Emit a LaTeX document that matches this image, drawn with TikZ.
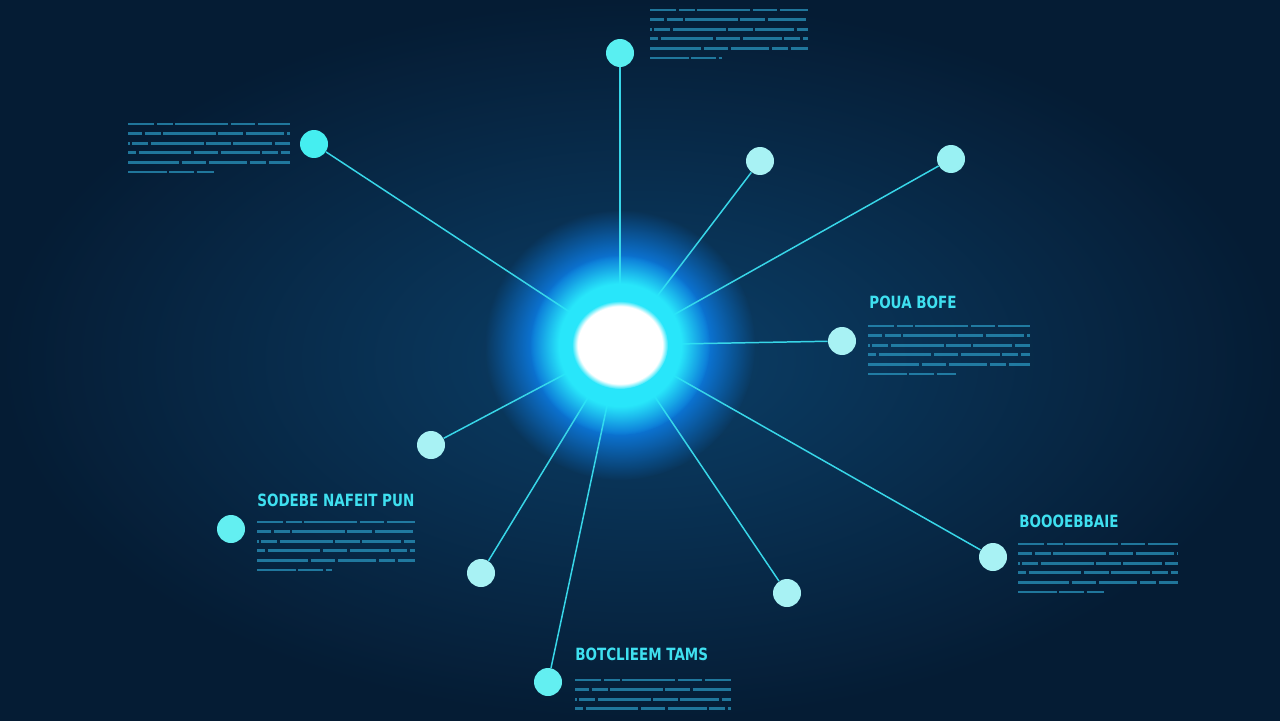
\documentclass[tikz,border=0pt]{standalone}
\usepackage{fontspec}
\usetikzlibrary{fadings}

\newfontfamily\headfont[FakeStretch=0.8]{DejaVu Sans}

\definecolor{bgdark}{HTML}{051C34}
\definecolor{bgmid}{HTML}{0B3F68}
\definecolor{wire}{HTML}{38D6E8}
\definecolor{dotpale}{HTML}{A8F2F4}
\definecolor{dotcyan}{HTML}{45EEF0}
\definecolor{headcol}{HTML}{3FE0F0}
\definecolor{bodycol}{HTML}{2C9CC6}
\definecolor{glowcol}{HTML}{0C7CE4}
\definecolor{ringcol}{HTML}{28E6FA}

% soft-edged round fadings
\pgfdeclareradialshading{glowsh}{\pgfpointorigin}{color(0bp)=(white); color(16bp)=(white!90!black); color(25bp)=(black); color(50bp)=(black)}
\pgfdeclarefading{glowfade}{\pgfuseshading{glowsh}}
\pgfdeclareradialshading{halosh}{\pgfpointorigin}{color(0bp)=(white); color(17bp)=(white); color(25bp)=(black); color(50bp)=(black)}
\pgfdeclarefading{halofade}{\pgfuseshading{halosh}}
\pgfdeclareradialshading{coresh}{\pgfpointorigin}{color(0bp)=(white); color(22bp)=(white); color(25bp)=(black); color(50bp)=(black)}
\pgfdeclarefading{corefade}{\pgfuseshading{coresh}}

% filler lines under a heading: x, y, width, lines, last width
\newcommand{\fillerlines}[5]{%
  \foreach \k in {1,...,#4}{%
    \pgfmathsetmacro{\ly}{#2+(\k-1)*9.6}
    \ifnum\k=#4
      \draw[filler, dash phase=\k*7pt] (#1,\ly) -- ++(#5,0);
    \else
      \draw[filler, dash phase=\k*7pt] (#1,\ly) -- ++(#3,0);
    \fi
  }}

\begin{document}
\begin{tikzpicture}[x=0.02cm, y=-0.02cm,
  leaf/.style={circle, fill=dotpale, inner sep=0pt, minimum size=0.56cm},
  wire/.style={color=wire, line width=0.85pt},
  head/.style={anchor=base west, inner sep=0pt, text=headcol, font=\headfont\bfseries\fontsize{9.6}{10}\selectfont},
  filler/.style={color=bodycol, line width=1.6pt, opacity=0.7,
    dash pattern=on 22pt off 1.5pt on 9pt off 1.5pt on 30pt off 1.5pt on 14pt off 1.5pt}]

\useasboundingbox (0,0) rectangle (1280,720);
\shade[inner color=bgmid, outer color=bgdark] (0,0) rectangle (1280,720);

\node[circle, inner sep=0pt, minimum size=1.8cm] (hub) at (620,345) {};

% blue glow round the hub
\fill[glowcol, path fading=glowfade] (hub.center) circle (135);

\node[leaf, fill=dotcyan!80!dotpale] (nTop) at (620,53) {};
\node[leaf, fill=dotcyan] (nUL) at (314,144) {};
\node[leaf] (nUR) at (760,161) {};
\node[leaf, fill=dotpale!85!dotcyan] (nFR) at (951,159) {};
\node[leaf] (nR) at (842,341) {};
\node[leaf] (nL) at (431,445) {};
\node[leaf, fill=dotcyan!70!dotpale] (nFL) at (231,529) {};
\node[leaf] (nLL) at (481,573) {};
\node[leaf, fill=dotcyan!70!dotpale] (nB) at (548,682) {};
\node[leaf] (nLR) at (787,593) {};
\node[leaf] (nBR) at (993,557) {};

\foreach \n in {nTop,nUL,nUR,nFR,nR,nL,nLL,nB,nLR,nBR}
  \draw[wire] (hub) -- (\n);

% cyan halo and white core
\fill[ringcol, path fading=halofade] (hub.center) circle (90);
\fill[white, path fading=corefade] (hub.center) ellipse (48 and 44);

% headings
\node[head] (hR) at (869,308) {POUA BOFE};
\node[head] (hL) at (257,506) {SODEBE NAFEIT PUN};
\node[head] (hBR) at (1019,527) {BOOOEBBAIE};
\node[head] (hB) at (575,660) {BOTCLIEEM TAMS};

% body text
\fillerlines{650}{10}{158}{6}{72}
\fillerlines{128}{124}{162}{6}{86}
\fillerlines{868}{326}{162}{6}{88}
\fillerlines{257}{522}{158}{6}{75}
\fillerlines{1018}{544}{160}{6}{86}
\fillerlines{575}{680}{156}{4}{156}

\end{tikzpicture}
\end{document}
